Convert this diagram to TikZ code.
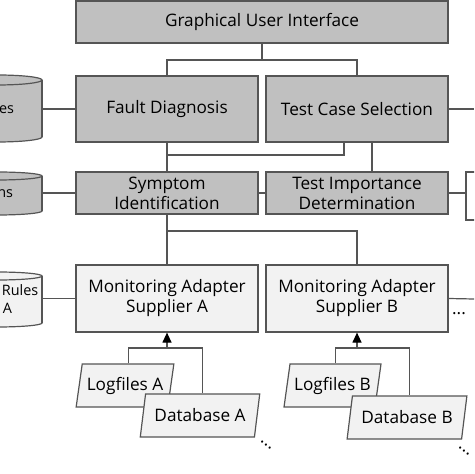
\documentclass[tikz,border=0pt]{standalone}
\usepackage{fontspec}
\setmainfont{Open Sans}
\usetikzlibrary{shapes.geometric,arrows.meta}
\definecolor{linegray}{RGB}{85,85,85}
\definecolor{boxgray}{RGB}{192,192,192}
\definecolor{boxlight}{RGB}{242,242,242}

% a store cylinder: \storecyl{fill}{top y}{bottom y}{cap radius}
\newcommand{\storecyl}[4]{%
    \filldraw[fill=#1, draw=linegray, line width=0.6pt] (-3,#3-#4) ellipse (45 and #4);
    \fill[#1] (-48,#2+#4) rectangle (42,#3-#4);
    \draw[linegray, line width=0.6pt] (42,#2+#4) -- (42,#3-#4);
    \filldraw[fill=#1, draw=linegray, line width=0.6pt] (-3,#2+#4) ellipse (45 and #4);
}

\begin{document}
\begin{tikzpicture}[x=0.5pt,y=-0.5pt,
    every node/.style={font=\fontsize{8.6}{10}\selectfont, align=center},
    darkbox/.style={draw=linegray, fill=boxgray, line width=0.6pt, minimum width=91pt, inner sep=1pt},
    lightbox/.style={draw=linegray, fill=boxlight, line width=0.6pt, minimum width=91pt, inner sep=1pt},
    source/.style={trapezium, trapezium left angle=75, trapezium right angle=105, trapezium stretches=true,
        draw=linegray, fill=boxlight, line width=0.6pt, inner sep=1pt, minimum height=21.5pt},
    storetext/.style={inner sep=0pt, font=\fontsize{7.2}{9}\selectfont},
    conn/.style={draw=linegray, line width=0.6pt},
    tip/.style={-{Triangle[length=5pt, width=4.5pt, color=black]}}]
    \useasboundingbox (0,0) rectangle (474,474);
    \clip (0,0) rectangle (474,474);

    % top layer
    \node[darkbox, minimum width=186pt, minimum height=21pt] (gui) at (262,22) {Graphical User Interface};
    \node[darkbox, minimum height=33pt] (fd) at (167,109) {Fault Diagnosis};
    \node[darkbox, minimum height=33pt] (tcs) at (357,109) {Test Case Selection};
    \node[darkbox, minimum height=21pt] (si) at (167,193) {Symptom\\Identification};
    \node[darkbox, minimum height=21pt] (tid) at (357,193) {Test Importance\\Determination};
    \node[draw=linegray, fill=white, line width=0.6pt, minimum width=32pt, minimum height=24pt] (rb) at (498,196) {};

    % adapters
    \node[lightbox, minimum height=33.5pt] (maA) at (167,298.5) {Monitoring Adapter\\Supplier A};
    \node[lightbox, minimum height=33.5pt] (maB) at (357,298.5) {Monitoring Adapter\\Supplier B};

    % stores on the left
    \storecyl{boxgray}{75}{142}{5}
    \storecyl{boxgray}{172}{215}{4}
    \storecyl{boxlight}{272}{327}{4}
    \coordinate (c1) at (42,109);
    \coordinate (c2) at (42,193);
    \coordinate (c3) at (42,298.5);
    \node[storetext, anchor=east] (t1) at (14.5,110) {es};
    \node[storetext, anchor=east] (t2) at (13.5,194) {ns};
    \node[storetext, anchor=west] (t3) at (1.5,290) {Rules};
    \node[storetext] (t4) at (7.5,308) {A};

    % data sources
    \node[source, minimum width=49pt] (lfA) at (125,385.5) {Logfiles A};
    \node[source, minimum width=60pt] (dbA) at (200,415.5) {Database A};
    \node[source, minimum width=48.5pt] (lfB) at (332.5,385.5) {Logfiles B};
    \node[source, minimum width=60pt] (dbB) at (407,417.5) {Database B};

    \node (d1) at (459,314) {...};
    \node[rotate=-35] (d2) at (266,445) {...};
    \node[rotate=-35] (d3) at (464,451) {...};

    \coordinate (b1) at (262,60);
    \coordinate (b2) at (167,155);
    \coordinate (b3) at (167,231);
    \coordinate (jA) at (167,348);
    \coordinate (jB) at (357,348);
    \coordinate (o1) at (474,109);
    \coordinate (o2) at (474,299);

    \draw[conn] (gui.south) -- (b1);
    \draw[conn] (fd.north) |- (b1) -| (tcs.north);
    \draw[conn] (fd) -- (si);
    \draw[conn] ([xshift=-6.5pt]tcs.south) |- (b2);
    \draw[conn] ([xshift=7.5pt]tcs.south) -- ([xshift=7.5pt]tid.north);
    \draw[conn] (si) -- (tid);
    \draw[conn] (tid.east) -- (tid.east -| rb.west);
    \draw[conn] (tcs.east) -- (o1);
    \draw[conn] (si) -- (maA);
    \draw[conn] (b3) -| (maB.north);
    \draw[conn] (maB.east) -- (o2);
    \draw[conn] (c1) -- (fd.west);
    \draw[conn] (c2) -- (si.west);
    \draw[conn] (c3) -- (maA.west);

    \draw[conn] (lfA.top side) |- (jA) -| (dbA.top side);
    \draw[conn, tip] (jA) -- (maA.south);
    \draw[conn] (lfB.top side) |- (jB) -| (dbB.top side);
    \draw[conn, tip] (jB) -- (maB.south);
\end{tikzpicture}
\end{document}
